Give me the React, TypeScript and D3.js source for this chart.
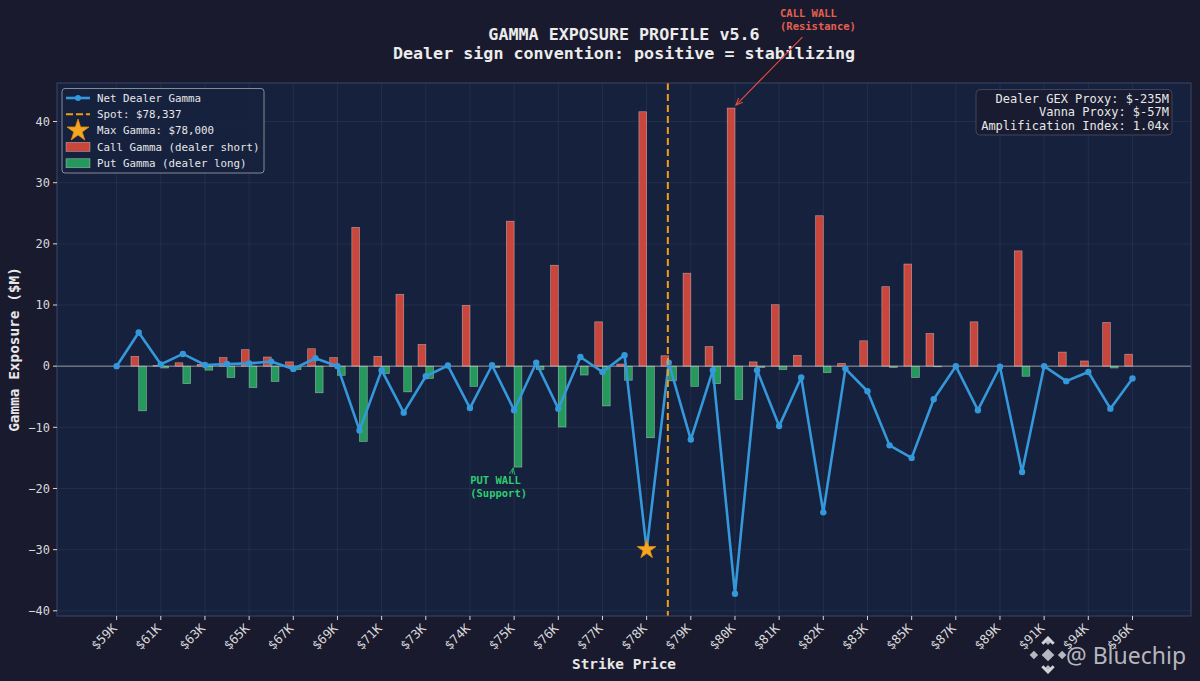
import * as D3 from 'd3'
import { useEffect, useRef } from 'react'

// strike slots, in $K (every other one gets a tick label)
const STRIKES = [
  59, 60, 61, 62, 63, 64, 65, 66, 67, 68, 69, 70, 71, 72, 73, 73.5, 74, 74.5,
  75, 75.5, 76, 76.5, 77, 77.5, 78, 78.5, 79, 79.5, 80, 80.5, 81, 81.5, 82,
  82.5, 83, 84, 85, 86, 87, 88, 89, 90, 91, 92.5, 94, 95, 96,
]
const CALL_GAMMA = [
  0, 1.6, 0.1, 0.55, 0.3, 1.4, 2.7, 1.5, 0.7, 2.85, 1.4, 22.7, 1.6, 11.75, 3.55,
  0, 9.95, 0, 23.7, 0, 16.5, 0, 7.25, 0.35, 41.6, 1.7, 15.2, 3.2, 42.2, 0.7,
  10.05, 1.75, 24.6, 0.45, 4.15, 13.0, 16.7, 5.35, 0, 7.25, 0, 18.85, 0, 2.3,
  0.85, 7.15, 1.95,
]
const PUT_GAMMA = [
  0, -7.3, -0.3, -2.85, -0.65, -1.85, -3.5, -2.5, -0.55, -4.35, -1.5, -12.3,
  -1.2, -4.2, -2.0, 0, -3.3, -0.2, -16.5, -0.55, -9.95, -1.45, -6.5, -2.3,
  -11.7, -2.4, -3.3, -2.85, -5.45, -0.2, -0.55, 0, -1.05, 0, 0, -0.2, -1.85,
  -0.1, 0, 0, 0, -1.65, 0, 0, 0, -0.3, 0,
]
const NET_GAMMA = [
  0, 5.5, 0.3, 2.0, 0.2, 0.35, 0.45, 0.75, -0.45, 1.3, 0, -10.5, -0.65, -7.6,
  -1.65, 0.1, -6.85, 0.15, -7.2, 0.55, -6.95, 1.5, -0.95, 1.8, -30.0, 0.55,
  -12.0, -0.65, -37.2, -0.65, -9.8, -1.85, -23.9, -0.4, -4.1, -12.95, -15.0,
  -5.4, 0, -7.2, -0.1, -17.3, 0, -2.45, -0.95, -6.95, -2.0,
]
const Y_TICKS = [-40, -30, -20, -10, 0, 10, 20, 30, 40]
const SPOT_LABEL = 'Spot: $78,337'
const SPOT_SLOT = 24.96 // fractional strike slot of the spot price
const MAX_GAMMA_SLOT = 24
const CALL_WALL_SLOT = 28
const PUT_WALL_SLOT = 18
const INFO_LINES = [
  'Dealer GEX Proxy: $-235M',
  'Vanna Proxy: $-57M',
  'Amplification Index: 1.04x',
]
const LEGEND_LABELS = [
  'Net Dealer Gamma',
  SPOT_LABEL,
  'Max Gamma: $78,000',
  'Call Gamma (dealer short)',
  'Put Gamma (dealer long)',
]

const MONO = '"DejaVu Sans Mono", monospace'
const BLUE = '#3498db'
const ORANGE = '#f39c12'
const RED = '#e74c3c'
const GREEN = '#27ae60'

export default function App() {
  const ref = useRef<HTMLDivElement>(null)

  useEffect(() => {
    const width = 1200
    const height = 681
    const left = 57
    const right = 1191
    const top = 83
    const bottom = 616
    const barW = 0.35

    const x = D3.scaleLinear().domain([-2.7, 48.65]).range([left, right])
    const y = D3.scaleLinear().domain([-40.85, 46.3]).range([bottom, top])
    const slots = D3.range(STRIKES.length)

    const svg = D3.create('svg')
      .attr('width', width)
      .attr('height', height)
      .attr('viewBox', [0, 0, width, height])
      .attr('style', `display:block; font-family:${MONO};`)

    const defs = svg.append('defs')
    const arrow = (id: string, color: string) =>
      defs
        .append('marker')
        .attr('id', id)
        .attr('viewBox', '0 0 10 10')
        .attr('refX', 9)
        .attr('refY', 5)
        .attr('markerWidth', 7)
        .attr('markerHeight', 7)
        .attr('orient', 'auto')
        .append('path')
        .attr('d', 'M0,1 L9,5 L0,9')
        .attr('fill', 'none')
        .attr('stroke', color)
        .attr('stroke-width', 1.4)
    arrow('arr-red', RED)
    arrow('arr-green', GREEN)

    // backgrounds
    svg.append('rect').attr('width', width).attr('height', height).attr('fill', '#1a1a2e')
    svg
      .append('rect')
      .attr('x', left)
      .attr('y', top)
      .attr('width', right - left)
      .attr('height', bottom - top)
      .attr('fill', '#16213e')

    // grid
    const grid = svg.append('g').attr('stroke', '#ffffff').attr('stroke-opacity', 0.06)
    grid
      .selectAll()
      .data(Y_TICKS)
      .join('line')
      .attr('x1', left)
      .attr('x2', right)
      .attr('y1', (d) => y(d))
      .attr('y2', (d) => y(d))
    grid
      .selectAll()
      .data(slots.filter((i) => i % 2 === 0))
      .join('line')
      .attr('x1', (i) => x(i))
      .attr('x2', (i) => x(i))
      .attr('y1', top)
      .attr('y2', bottom)

    // call bars (left of the slot) and put bars (right of the slot)
    svg
      .append('g')
      .attr('fill', RED)
      .attr('fill-opacity', 0.85)
      .attr('stroke', '#ffffff')
      .attr('stroke-opacity', 0.45)
      .attr('stroke-width', 0.7)
      .selectAll()
      .data(slots.filter((i) => CALL_GAMMA[i] !== 0))
      .join('rect')
      .attr('x', (i) => x(i - barW))
      .attr('width', x(barW) - x(0))
      .attr('y', (i) => y(CALL_GAMMA[i]))
      .attr('height', (i) => y(0) - y(CALL_GAMMA[i]))
    svg
      .append('g')
      .attr('fill', GREEN)
      .attr('fill-opacity', 0.85)
      .attr('stroke', '#ffffff')
      .attr('stroke-opacity', 0.45)
      .attr('stroke-width', 0.7)
      .selectAll()
      .data(slots.filter((i) => PUT_GAMMA[i] !== 0))
      .join('rect')
      .attr('x', (i) => x(i))
      .attr('width', x(barW) - x(0))
      .attr('y', y(0))
      .attr('height', (i) => y(PUT_GAMMA[i]) - y(0))

    // zero line
    svg
      .append('line')
      .attr('x1', left)
      .attr('x2', right)
      .attr('y1', y(0))
      .attr('y2', y(0))
      .attr('stroke', '#c8c8c8')
      .attr('stroke-opacity', 0.7)
      .attr('stroke-width', 1)

    // net gamma line
    const line = D3.line<number>()
      .x((i) => x(i))
      .y((i) => y(NET_GAMMA[i]))
    svg
      .append('path')
      .attr('d', line(slots))
      .attr('fill', 'none')
      .attr('stroke', BLUE)
      .attr('stroke-width', 2.6)
      .attr('stroke-linejoin', 'round')
    svg
      .append('g')
      .attr('fill', BLUE)
      .selectAll()
      .data(slots)
      .join('circle')
      .attr('cx', (i) => x(i))
      .attr('cy', (i) => y(NET_GAMMA[i]))
      .attr('r', 3.2)

    // spot line
    svg
      .append('line')
      .attr('x1', x(SPOT_SLOT))
      .attr('x2', x(SPOT_SLOT))
      .attr('y1', top)
      .attr('y2', bottom)
      .attr('stroke', ORANGE)
      .attr('stroke-width', 2)
      .attr('stroke-dasharray', '7,4')

    // max gamma star
    const star = D3.symbol(D3.symbolStar)
    svg
      .append('path')
      .attr('d', star.size(110)())
      .attr('transform', `translate(${x(MAX_GAMMA_SLOT)},${y(NET_GAMMA[MAX_GAMMA_SLOT])})`)
      .attr('fill', '#f5a623')
      .attr('stroke', '#e08e0b')
      .attr('stroke-width', 0.8)

    // spines
    svg
      .append('rect')
      .attr('x', left)
      .attr('y', top)
      .attr('width', right - left)
      .attr('height', bottom - top)
      .attr('fill', 'none')
      .attr('stroke', '#3a4566')
      .attr('stroke-width', 1)

    // y axis
    const yAxis = svg.append('g').attr('fill', '#d8d8d8').attr('font-size', 12)
    yAxis
      .selectAll()
      .data(Y_TICKS)
      .join('line')
      .attr('x1', left - 4)
      .attr('x2', left)
      .attr('y1', (d) => y(d))
      .attr('y2', (d) => y(d))
      .attr('stroke', '#d8d8d8')
    yAxis
      .selectAll()
      .data(Y_TICKS)
      .join('text')
      .attr('x', left - 7)
      .attr('y', (d) => y(d))
      .attr('dy', '0.35em')
      .attr('text-anchor', 'end')
      .text((d) => (d < 0 ? `\u2212${-d}` : `${d}`))

    // x axis
    const xAxis = svg.append('g').attr('fill', '#d8d8d8').attr('font-size', 12.5)
    const labelled = slots.filter((i) => i % 2 === 0)
    xAxis
      .selectAll()
      .data(labelled)
      .join('line')
      .attr('x1', (i) => x(i))
      .attr('x2', (i) => x(i))
      .attr('y1', bottom)
      .attr('y2', bottom + 4)
      .attr('stroke', '#d8d8d8')
    xAxis
      .selectAll()
      .data(labelled)
      .join('text')
      .attr('transform', (i) => `translate(${x(i) - 2},${bottom + 10}) rotate(-45)`)
      .attr('text-anchor', 'end')
      .attr('dy', '0.35em')
      .text((i) => `$${Math.round(STRIKES[i])}K`)

    // axis titles
    svg
      .append('text')
      .attr('x', (left + right) / 2)
      .attr('y', 669)
      .attr('text-anchor', 'middle')
      .attr('font-size', 14.4)
      .attr('font-weight', 'bold')
      .attr('fill', '#e8e8e8')
      .text('Strike Price')
    svg
      .append('text')
      .attr('transform', `translate(19,${(top + bottom) / 2}) rotate(-90)`)
      .attr('text-anchor', 'middle')
      .attr('font-size', 14.4)
      .attr('font-weight', 'bold')
      .attr('fill', '#e8e8e8')
      .text('Gamma Exposure ($M)')

    // title
    const title = svg
      .append('text')
      .attr('text-anchor', 'middle')
      .attr('font-size', 16.7)
      .attr('font-weight', 'bold')
      .attr('fill', '#ececec')
    title.append('tspan').attr('x', (left + right) / 2).attr('y', 40).text('GAMMA EXPOSURE PROFILE v5.6')
    title
      .append('tspan')
      .attr('x', (left + right) / 2)
      .attr('y', 59)
      .text('Dealer sign convention: positive = stabilizing')

    // wall annotations
    const cwTop = y(CALL_GAMMA[CALL_WALL_SLOT])
    svg
      .append('line')
      .attr('x1', x(CALL_WALL_SLOT + 3.05))
      .attr('y1', y(53.8))
      .attr('x2', x(CALL_WALL_SLOT) + 1)
      .attr('y2', cwTop - 3)
      .attr('stroke', RED)
      .attr('stroke-width', 1.1)
      .attr('marker-end', 'url(#arr-red)')
    const cw = svg
      .append('text')
      .attr('font-size', 10.5)
      .attr('font-weight', 'bold')
      .attr('fill', '#e4604e')
    cw.append('tspan').attr('x', x(CALL_WALL_SLOT + 2.04)).attr('y', 17).text('CALL WALL')
    cw.append('tspan').attr('x', x(CALL_WALL_SLOT + 2.04)).attr('y', 30).text('(Resistance)')

    const pwBottom = y(PUT_GAMMA[PUT_WALL_SLOT])
    svg
      .append('line')
      .attr('x1', x(PUT_WALL_SLOT) - 2)
      .attr('y1', pwBottom + 7)
      .attr('x2', x(PUT_WALL_SLOT) - 1)
      .attr('y2', pwBottom + 1)
      .attr('stroke', GREEN)
      .attr('stroke-width', 1)
      .attr('marker-end', 'url(#arr-green)')
    const pw = svg
      .append('text')
      .attr('font-size', 10.5)
      .attr('font-weight', 'bold')
      .attr('fill', '#2ecc71')
    pw.append('tspan').attr('x', x(PUT_WALL_SLOT - 1.99)).attr('y', 484).text('PUT WALL')
    pw.append('tspan').attr('x', x(PUT_WALL_SLOT - 1.99)).attr('y', 497).text('(Support)')

    // legend
    const lg = svg.append('g').attr('font-size', 10.8).attr('fill', '#e6e6e6')
    lg.append('rect')
      .attr('x', 62)
      .attr('y', 88.5)
      .attr('width', 202)
      .attr('height', 84.5)
      .attr('rx', 3)
      .attr('fill', '#16213e')
      .attr('fill-opacity', 0.9)
      .attr('stroke', '#b8b8b8')
      .attr('stroke-opacity', 0.7)
    const rowY = (k: number) => 98 + k * 16.3
    lg.append('line')
      .attr('x1', 66).attr('x2', 90).attr('y1', rowY(0)).attr('y2', rowY(0))
      .attr('stroke', BLUE).attr('stroke-width', 2.6)
    lg.append('circle').attr('cx', 78).attr('cy', rowY(0)).attr('r', 3).attr('fill', BLUE)
    lg.append('line')
      .attr('x1', 66).attr('x2', 90).attr('y1', rowY(1)).attr('y2', rowY(1))
      .attr('stroke', ORANGE).attr('stroke-width', 2).attr('stroke-dasharray', '7,3')
    lg.append('path')
      .attr('d', star.size(150)())
      .attr('transform', `translate(78,${rowY(2)})`)
      .attr('fill', '#f5a623')
      .attr('stroke', '#e08e0b')
      .attr('stroke-width', 0.8)
    lg.append('rect')
      .attr('x', 66).attr('y', rowY(3) - 4.5).attr('width', 24).attr('height', 9)
      .attr('fill', RED).attr('fill-opacity', 0.85)
      .attr('stroke', '#ffffff').attr('stroke-opacity', 0.45).attr('stroke-width', 0.7)
    lg.append('rect')
      .attr('x', 66).attr('y', rowY(4) - 4.5).attr('width', 24).attr('height', 9)
      .attr('fill', GREEN).attr('fill-opacity', 0.85)
      .attr('stroke', '#ffffff').attr('stroke-opacity', 0.45).attr('stroke-width', 0.7)
    lg.selectAll('text.lbl')
      .data(LEGEND_LABELS)
      .join('text')
      .attr('class', 'lbl')
      .attr('x', 97)
      .attr('y', (_, k) => rowY(k))
      .attr('dy', '0.35em')
      .text((d) => d)

    // info box
    const info = svg.append('g').attr('font-size', 12).attr('fill', '#e8e8e8')
    info
      .append('rect')
      .attr('x', 976)
      .attr('y', 89.5)
      .attr('width', 196)
      .attr('height', 45.5)
      .attr('rx', 4)
      .attr('fill', '#1a1a2e')
      .attr('fill-opacity', 0.85)
      .attr('stroke', '#4a4f66')
      .attr('stroke-opacity', 0.8)
    info
      .selectAll('text')
      .data(INFO_LINES)
      .join('text')
      .attr('x', 1169)
      .attr('y', (_, k) => 103 + k * 13.4)
      .attr('text-anchor', 'end')
      .text((d) => d)

    // watermark
    const wm = svg.append('g').attr('fill', '#d4d4d8').attr('fill-opacity', 0.85)
    const logo = wm.append('g').attr('transform', 'translate(1048,655) rotate(45)')
    logo.append('rect').attr('x', -4.5).attr('y', -4.5).attr('width', 9).attr('height', 9)
    ;[
      [-10, -10],
      [10, 10],
      [-10, 10],
      [10, -10],
    ].forEach(([dx, dy]) =>
      logo.append('rect').attr('x', dx - 3).attr('y', dy - 3).attr('width', 6).attr('height', 6),
    )
    logo
      .append('path')
      .attr('d', 'M-12,-4 L-12,-12 L-4,-12 M4,12 L12,12 L12,4')
      .attr('fill', 'none')
      .attr('stroke', '#d4d4d8')
      .attr('stroke-width', 3)
    wm.append('text')
      .attr('x', 1066)
      .attr('y', 664)
      .attr('font-family', '"Noto Sans", sans-serif')
      .attr('font-size', 23)
      .text('@ Bluechip')

    const node = svg.node()
    const holder = ref.current
    if (holder && node) {
      holder.innerHTML = ''
      holder.appendChild(node)
    }
  }, [])

  return <div ref={ref} style={{ position: 'absolute', left: 0, top: 0 }} />
}
